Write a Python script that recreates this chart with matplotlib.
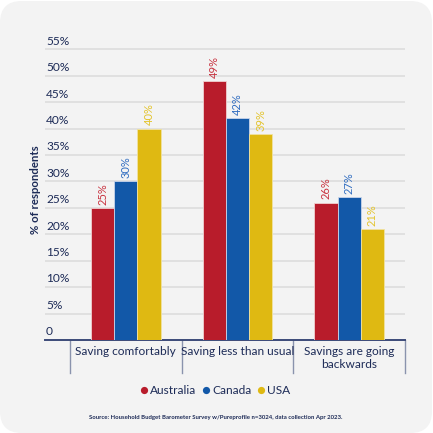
import matplotlib.pyplot as plt
import numpy as np
from matplotlib.patches import FancyBboxPatch
from matplotlib.lines import Line2D
import matplotlib.transforms as mtransforms

plt.rcParams['font.family'] = ['Lato', 'DejaVu Sans']

categories = ['Saving comfortably', 'Saving less than usual', 'Savings are going\nbackwards']
countries = ['Australia', 'Canada', 'USA']
australia = [25, 49, 26]
canada = [30, 42, 27]
usa = [40, 39, 21]
yticks = [0, 5, 10, 15, 20, 25, 30, 35, 40, 45, 50, 55]

bar_colors = ['#b81c2b', '#1258a8', '#dfb912']
edge_colors = ['#f0d0d0', '#c8d4ea', '#f0e2a0']
label_colors = ['#c8323f', '#2f6cc0', '#e3c32a']
navy = '#1d2b57'

fig = plt.figure(figsize=(4.33, 4.33), dpi=100)
fig.patch.set_facecolor('white')
bg = FancyBboxPatch((0.0, 0.0), 432 / 433, 432 / 433,
                    boxstyle='round,pad=0,rounding_size=0.05',
                    transform=fig.transFigure, facecolor='#f3f3f3',
                    edgecolor='none', zorder=-10)
fig.patches.append(bg)

ax = fig.add_axes([45 / 433, 1 - 340 / 433, 360 / 433, 296 / 433])
ax.set_facecolor('none')
ax.set_xlim(-0.724, 2.5)
ax.set_ylim(0, 56)

x = np.arange(len(categories))
w = 0.208
series = [australia, canada, usa]
for i, vals in enumerate(series):
    xs = x + (i - 1) * w
    ax.bar(xs, vals, width=w, color=bar_colors[i], edgecolor=edge_colors[i],
           linewidth=0.6, zorder=3)
    for xx, v in zip(xs, vals):
        ax.text(xx, v + 0.6, f'{v}%', rotation=90, ha='center', va='bottom',
                fontsize=8, color=label_colors[i], zorder=4)

# gridlines
for t in yticks[1:]:
    ax.axhline(t, color='#dedede', linewidth=1.3, zorder=1)

ax.set_xticks([])
ax.set_yticks([])
for s in ['top', 'right', 'left']:
    ax.spines[s].set_visible(False)
ax.spines['bottom'].set_color('#3c4a78')
ax.spines['bottom'].set_linewidth(1.4)

# y tick labels drawn inside, above gridlines
trans = mtransforms.blended_transform_factory(ax.transAxes, ax.transData)
for t in yticks:
    lab = '0' if t == 0 else f'{t}%'
    ax.text(0.003, t + 0.5, lab, transform=trans, ha='left', va='bottom',
            fontsize=8.6, color=navy)

ax.text(-0.026, 28.5, '% of respondents', rotation=90, ha='center', va='center',
        fontsize=8.2, fontweight='bold', color=navy, transform=trans,
        clip_on=False)

# category separators and labels
transx = mtransforms.blended_transform_factory(ax.transData, ax.transAxes)
for b in [-0.5, 0.5, 1.5, 2.5]:
    ax.add_line(Line2D([b, b], [0, -33 / 296], transform=transx, color='#8a93ad',
                       linewidth=1.0, clip_on=False))
for xi, c in zip(x, categories):
    ax.text(xi, -6 / 296, c, transform=transx, ha='center', va='top',
            fontsize=8.6, color=navy, linespacing=1.25, clip_on=False)

# legend
handles = [Line2D([], [], marker='o', linestyle='none', markersize=5.2,
                  markerfacecolor=col, markeredgecolor='none', label=lab)
           for col, lab in zip(bar_colors, countries)]
leg = fig.legend(handles=handles, loc='center', bbox_to_anchor=(214 / 433, 1 - 391 / 433),
                 ncol=3, frameon=False, fontsize=8.6, handletextpad=0.0,
                 columnspacing=0.3, handlelength=1.0)
for txt in leg.get_texts():
    txt.set_color(navy)

fig.text(216 / 433, 1 - 418 / 433,
         'Source: Household Budget Barometer Survey w/Pureprofile n=3024, data collection Apr 2023.',
         ha='center', va='center', fontsize=4.3, fontweight='bold', color=navy)

fig.savefig('out.png', dpi=100, facecolor='white')
